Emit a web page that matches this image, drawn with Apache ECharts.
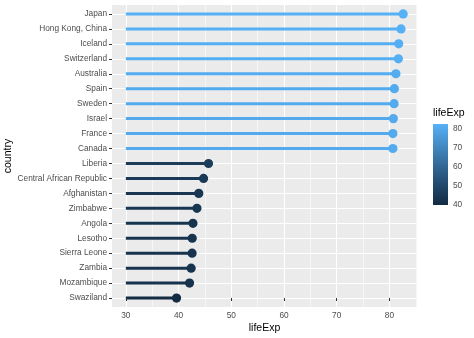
<!DOCTYPE html>
<html>
<head>
<meta charset="utf-8">
<script src="https://cdn.jsdelivr.net/npm/echarts@6/dist/echarts.min.js"></script>
<style>html,body{margin:0;padding:0;background:#fff}#c{width:474px;height:338px}</style>
</head>
<body>
<div id="c"></div>
<script>
const countries = ['Swaziland','Mozambique','Zambia','Sierra Leone','Lesotho','Angola','Zimbabwe','Afghanistan','Central African Republic','Liberia','Canada','France','Israel','Sweden','Spain','Australia','Switzerland','Iceland','Hong Kong, China','Japan'];
const lifeExp = [39.613,42.082,42.384,42.568,42.592,42.731,43.487,43.828,44.741,45.678,80.653,80.657,80.745,80.884,80.941,81.235,81.701,81.757,82.208,82.603];
const segmentStart = 30;
const xTicks = [30,40,50,60,70,80];
const xMinorTicks = [35,45,55,65,75,85];
const legendTicks = [40,50,60,70,80];

// ggplot-like Lab colour ramp from #132B43 to #56B1F7
function hex2rgb(h){return [1,3,5].map(i=>parseInt(h.substr(i,2),16)/255);}
function lin(c){return c<=0.04045?c/12.92:Math.pow((c+0.055)/1.055,2.4);}
function delin(c){return c<=0.0031308?12.92*c:1.055*Math.pow(c,1/2.4)-0.055;}
const Wn=[0.95047,1,1.08883];
function f(t){return t>0.008856?Math.cbrt(t):7.787*t+16/116;}
function finv(t){return t>0.206893?t*t*t:(t-16/116)/7.787;}
function rgb2lab(rgb){const [r,g,b]=rgb.map(lin);
 const X=(0.4124*r+0.3576*g+0.1805*b)/Wn[0],Y=(0.2126*r+0.7152*g+0.0722*b)/Wn[1],Z=(0.0193*r+0.1192*g+0.9505*b)/Wn[2];
 return [116*f(Y)-16,500*(f(X)-f(Y)),200*(f(Y)-f(Z))];}
function lab2rgb(lab){const fy=(lab[0]+16)/116,fx=fy+lab[1]/500,fz=fy-lab[2]/200;
 const X=finv(fx)*Wn[0],Y=finv(fy)*Wn[1],Z=finv(fz)*Wn[2];
 const r=3.2406*X-1.5372*Y-0.4986*Z,g=-0.9689*X+1.8758*Y+0.0415*Z,b=0.0557*X-0.2040*Y+1.0570*Z;
 return [r,g,b].map(c=>Math.round(Math.min(1,Math.max(0,delin(c)))*255));}
const labLo=rgb2lab(hex2rgb('#132B43')),labHi=rgb2lab(hex2rgb('#56B1F7'));
const vMin=Math.min(...lifeExp),vMax=Math.max(...lifeExp);
function colorFor(v){const t=(v-vMin)/(vMax-vMin);const c=lab2rgb(labLo.map((a,i)=>a+(labHi[i]-a)*t));return 'rgb('+c.join(',')+')';}

const xMin=segmentStart-0.05*(vMax-segmentStart), xMax=vMax+0.05*(vMax-segmentStart);
const seriesData=lifeExp.map((v,i)=>[v,i]);
const yIdx=countries.map((_,i)=>i);

const gradStops=[];for(let k=0;k<=20;k++){gradStops.push({offset:k/20,color:colorFor(vMax-(vMax-vMin)*k/20)});}

const chart=echarts.init(document.getElementById('c'));
const font="Liberation Sans";
chart.setOption({
 animation:false,
 textStyle:{fontFamily:font},
 grid:[
  {left:112,right:57,top:5,bottom:31,show:true,backgroundColor:'#EBEBEB',borderWidth:0,outerBoundsMode:'none',containLabel:false},
  {left:433,width:15,top:124,height:81,show:false,outerBoundsMode:'none',containLabel:false}
 ],
 xAxis:[
  {type:'value',gridIndex:0,min:xMin,max:xMax,position:'bottom',
   axisLine:{show:false},
   axisTick:{show:true,customValues:xTicks,length:3,lineStyle:{color:'#333333'}},
   axisLabel:{customValues:xTicks,color:'#4D4D4D',fontSize:8.3,margin:5},
   splitLine:{show:true,lineStyle:{color:'#FFFFFF',width:1.1}},
   name:'lifeExp',nameLocation:'middle',nameGap:16,nameMoveOverlap:false,nameTextStyle:{color:'#000',fontSize:10.5}},
  {type:'value',gridIndex:0,min:xMin,max:xMax,position:'bottom',
   axisLine:{show:false},axisLabel:{show:false},
   axisTick:{show:false,customValues:xMinorTicks},
   splitLine:{show:true,lineStyle:{color:'#FFFFFF',width:0.55}}},
  {type:'value',gridIndex:1,min:0,max:1,show:false}
 ],
 yAxis:[
  {type:'value',gridIndex:0,min:-0.6,max:19.6,
   axisLine:{show:false},
   axisTick:{show:true,customValues:yIdx,length:3,lineStyle:{color:'#333333'}},
   axisLabel:{customValues:yIdx,color:'#4D4D4D',fontSize:8.3,margin:5,formatter:v=>countries[Math.round(v)]},
   splitLine:{show:true,lineStyle:{color:'#FFFFFF',width:1.1}},
   name:'country',nameLocation:'middle',nameGap:98,nameMoveOverlap:false,nameRotate:90,nameTextStyle:{color:'#000',fontSize:10.5}},
  {type:'value',gridIndex:1,min:vMin,max:vMax,position:'right',
   axisLine:{show:false},
   axisTick:{show:true,inside:true,customValues:legendTicks,length:3,lineStyle:{color:'#FFFFFF',width:1}},
   axisLabel:{customValues:legendTicks,color:'#4D4D4D',fontSize:8.3,margin:5},
   splitLine:{show:false}},
  {type:'value',gridIndex:1,min:vMin,max:vMax,position:'left',
   axisLine:{show:false},axisLabel:{show:false},
   axisTick:{show:true,inside:true,customValues:legendTicks,length:3,lineStyle:{color:'#FFFFFF',width:1}},
   splitLine:{show:false}}
 ],
 graphic:[{type:'text',left:433,top:108,style:{text:'lifeExp',fontSize:10.5,fill:'#000',fontFamily:font}}],
 series:[
  {type:'custom',xAxisIndex:2,yAxisIndex:1,data:[[0,vMin,vMax]],z:1,
   renderItem:(params,api)=>{
     const a=api.coord([0,api.value(2)]),b=api.coord([1,api.value(1)]);
     return {type:'rect',shape:{x:a[0],y:a[1],width:b[0]-a[0],height:b[1]-a[1]},
       style:{fill:new echarts.graphic.LinearGradient(0,0,0,1,gradStops)}};
   }},
  {type:'custom',xAxisIndex:0,yAxisIndex:0,data:seriesData,z:5,
   renderItem:(params,api)=>{
     const v=api.value(0),i=api.value(1);
     const p0=api.coord([segmentStart,i]),p1=api.coord([v,i]);
     const c=colorFor(v);
     return {type:'group',children:[
       {type:'line',shape:{x1:p0[0],y1:p0[1],x2:p1[0],y2:p1[1]},style:{stroke:c,lineWidth:3}},
       {type:'circle',shape:{cx:p1[0],cy:p1[1],r:4.6},style:{fill:c}}
     ]};
   }}
 ]
});
</script>
</body>
</html>
